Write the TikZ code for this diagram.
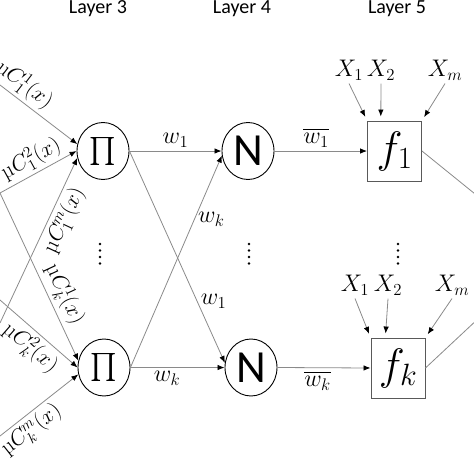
\RequirePackage{fix-cm}
\documentclass[tikz,border=0pt]{standalone}
\usepackage{amsmath,amssymb}
\usepackage{fontspec}
\usepackage{tikz}
\usetikzlibrary{positioning,arrows.meta,calc,shapes.geometric}
\usepackage{xcolor}
\newfontfamily\carlito{Carlito}
\definecolor{linkgray}{HTML}{8A8A8A}
\newcommand{\muC}[2]{\mbox{\textmu}C_{#1}^{#2}(x)}
\begin{document}
\begin{tikzpicture}[x=1pt,y=-1pt,>={Latex[length=7pt,width=5.5pt,black]},
  every node/.style={font=\fontsize{24}{28}\selectfont},
  mulabel/.style={font=\fontsize{22}{26}\selectfont},
  layer/.style={inner sep=0pt,font=\carlito\fontsize{20}{24}\selectfont},
  prodnode/.style={ellipse,draw,line width=0.9pt,inner sep=0pt,minimum width=52pt,minimum height=57pt,font=\fontsize{28}{30}\selectfont},
  normnode/.style={ellipse,draw,line width=0.9pt,inner sep=0pt,minimum width=52pt,minimum height=57pt,font=\carlito\fontsize{46}{46}\selectfont},
  fnode/.style={rectangle,draw=black!65,line width=0.9pt,inner sep=0pt,minimum width=54pt,minimum height=60pt,font=\fontsize{44}{46}\selectfont},
  link/.style={draw=linkgray,line width=0.8pt}]
\useasboundingbox (0,0) rectangle (474,474);
\clip (0,0) rectangle (474,474);
\node[layer] (l3) at (98,9) {Layer 3};
\node[layer] (l4) at (242,9) {Layer 4};
\node[layer] (l5) at (397,9) {Layer 5};
\node[prodnode] (p1) at (103,151) {$\prod$};
\node[prodnode] (pk) at (104,367.5) {$\prod$};
\node[normnode] (n1) at (248,151) {N};
\node[normnode] (nk) at (251,367.5) {N};
\node[fnode] (f1) at (394.5,151) {$f_1$};
\node[fnode] (fk) at (398,368) {$f_k$};
\node (x11) at (349,70) {$X_1$};
\node (x12) at (381,70) {$X_2$};
\node (x1m) at (445,70) {$X_m$};
\node (x21) at (355,285) {$X_1$};
\node (x22) at (388,285) {$X_2$};
\node (x2m) at (452,285) {$X_m$};
\coordinate (m1) at (0,85);
\coordinate (m2) at (0,193);
\coordinate (m3) at (0,323);
\coordinate (m4) at (0,300);
\coordinate (m5) at (0,436);
\coordinate (o1) at (480,198);
\coordinate (ok) at (480,317);
\draw[link,->] (m1) -- node[mulabel,sloped,above,pos=0.2] {$\muC{1}{1}$} (p1.165);
\draw[link,->] (m2) -- node[mulabel,sloped,above,pos=0.5] {$\muC{1}{2}$} (p1.west);
\draw[link,->] (m3) -- node[mulabel,sloped,below,pos=0.66] {$\muC{1}{m}$} (p1.195);
\draw[link,->] (m2) -- node[mulabel,sloped,above,pos=0.645] {$\muC{k}{1}$} (pk.165);
\draw[link,->] (m4) -- node[mulabel,sloped,below,pos=0.53] {$\muC{k}{2}$} (pk.west);
\draw[link,->] (m5) -- node[mulabel,sloped,below,pos=0.285] {$\muC{k}{m}$} (pk.195);
\foreach \px in {100,249,398}
  \foreach \py in {244,250.5,257,263.5}
    \fill (\px,\py) circle (1.3pt);
\draw[link,->] (p1.east) -- node[above] {$w_1$} (n1.west);
\draw[link,->] (pk.east) -- node[right,pos=0.7] {$w_k$} (n1.190);
\draw[link,->] (p1.east) -- node[right,pos=0.71] {$w_1$} (nk.170);
\draw[link,->] (pk.east) -- node[below,pos=0.39] {$w_k$} (nk.west);
\draw[link,->] (n1.east) -- node[above,pos=0.45] {$\overline{w_1}$} (f1.west);
\draw[link,->] (nk.east) -- node[below,pos=0.43] {$\overline{w_k}$} (fk.west);
\draw[link,->,shorten >=4pt] (x11.south) -- (f1.north west);
\draw[link,->,shorten >=4pt] (x12.south) -- ($(f1.north west)!0.25!(f1.north east)$);
\draw[link,->,shorten >=4pt] (x1m.south) -- (f1.north east);
\draw[link,->,shorten >=4pt] (x21.south) -- (fk.north west);
\draw[link,->,shorten >=4pt] (x22.south) -- ($(fk.north west)!0.27!(fk.north east)$);
\draw[link,->,shorten >=4pt] (x2m.south) -- (fk.north east);
\draw[link] (f1.east) -- (o1);
\draw[link] (fk.east) -- (ok);
\end{tikzpicture}
\end{document}
